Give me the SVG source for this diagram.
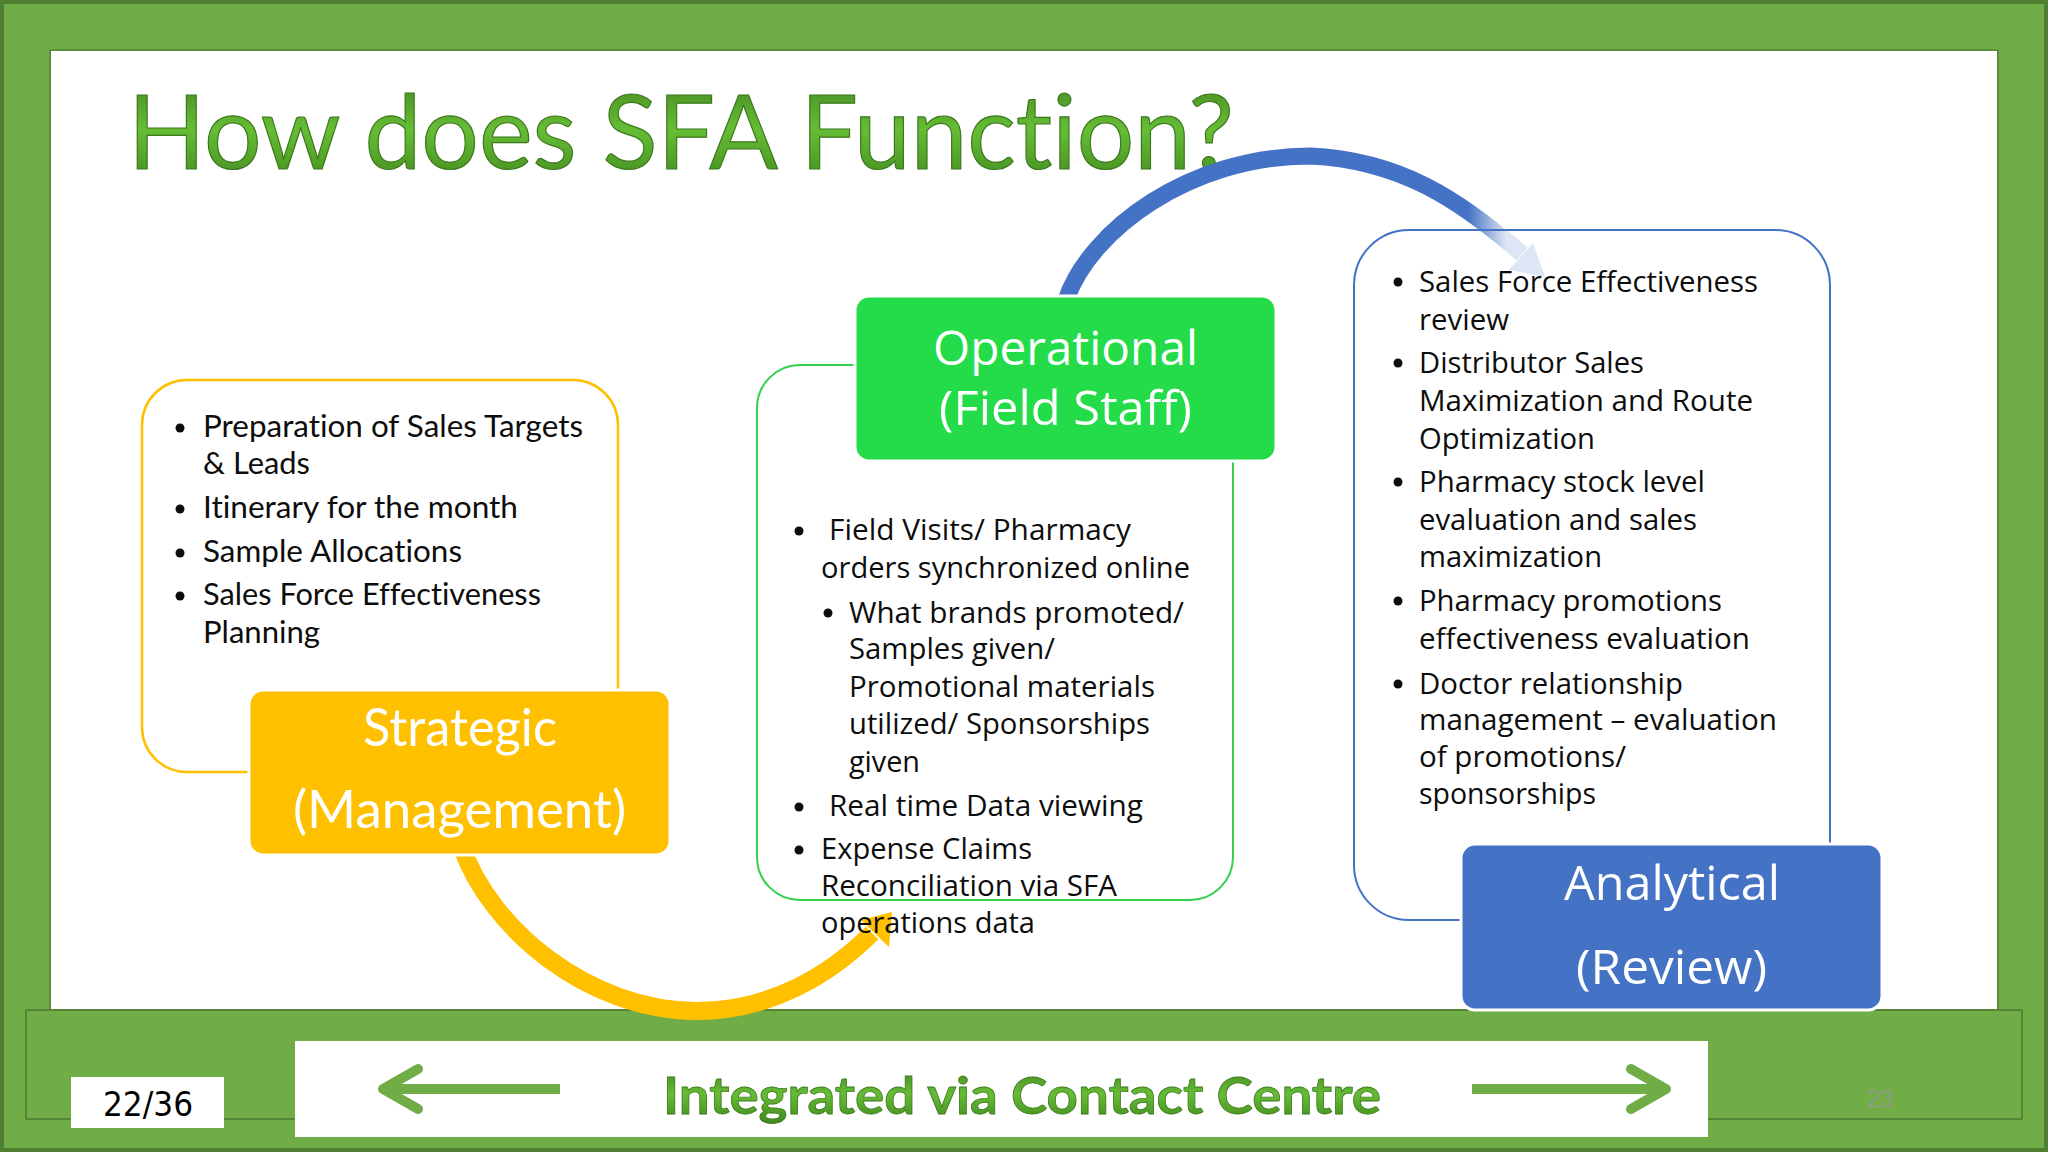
<svg xmlns="http://www.w3.org/2000/svg" width="2048" height="1152" viewBox="0 0 2048 1152">
<defs>
<style>
text{font-variant-ligatures:none;font-feature-settings:"liga" 0}
.bl{font-family:Lato,"Liberation Sans",sans-serif;font-size:30px;fill:#0d0d0d}
.br{font-family:"Open Sans","DejaVu Sans",sans-serif;font-size:29px;fill:#0d0d0d}
.lblL{font-family:Lato,"Liberation Sans",sans-serif;font-size:52px;fill:#ffffff}
.lblO{font-family:"Open Sans","DejaVu Sans",sans-serif;font-size:48px;fill:#ffffff}
.dot{fill:#0d0d0d}
.outline{fill:none}
.label{stroke:#ffffff;stroke-width:3}
.barrow{fill:none;stroke:#70AD47;stroke-width:10}
</style>
<linearGradient id="tg" x1="0" y1="0" x2="0" y2="1">
<stop offset="0" stop-color="#3f7f1f"/>
<stop offset="0.5" stop-color="#66bd35"/>
<stop offset="1" stop-color="#3e861d"/>
</linearGradient>
<linearGradient id="bg" gradientUnits="userSpaceOnUse" x1="1468" y1="0" x2="1506" y2="0">
<stop offset="0" stop-color="#4472C4"/>
<stop offset="1" stop-color="#dde6f4"/>
</linearGradient>
</defs>

<!-- slide background -->
<rect x="2" y="2" width="2044" height="1148" fill="#70AD47" stroke="#507E32" stroke-width="4"/>
<rect x="50" y="50" width="1948" height="960" fill="#ffffff" stroke="#5A8C3A" stroke-width="2"/>
<rect x="26" y="1010" width="1996" height="109" fill="#70AD47" stroke="#548435" stroke-width="2"/>
<rect x="295" y="1041" width="1413" height="96" fill="#ffffff"/>
<rect x="71" y="1077" width="153" height="51" fill="#ffffff"/>
<text x="103" y="1116" font-family="'DejaVu Sans Condensed','Liberation Sans',sans-serif" font-size="34" fill="#000" textLength="90" lengthAdjust="spacingAndGlyphs">22/36</text>
<text x="1867" y="1107" font-family="'Liberation Sans',sans-serif" font-size="24" fill="#8E9C84">23</text>

<!-- bottom banner -->
<g id="contact-centre">
<line class="barrow" x1="385" y1="1089" x2="560" y2="1089"/>
<polyline class="barrow" points="418,1069 383,1089 418,1109" stroke-linecap="round" stroke-linejoin="round"/>
<line class="barrow" x1="1472" y1="1089" x2="1662" y2="1089"/>
<polyline class="barrow" points="1631,1069 1666,1089 1631,1109" stroke-linecap="round" stroke-linejoin="round"/>
<text x="663" y="1114" font-family="Lato,'Liberation Sans',sans-serif" font-weight="700" font-size="52" fill="url(#tg)" stroke="#3d7a1c" stroke-width="0.8" textLength="718" lengthAdjust="spacingAndGlyphs">Integrated via Contact Centre</text>
</g>

<!-- title -->
<text x="128" y="169" font-family="Lato,'Liberation Sans',sans-serif" font-size="102" fill="url(#tg)" stroke="#3c781c" stroke-width="1.2" textLength="1106" lengthAdjust="spacingAndGlyphs">How does SFA Function?</text>

<!-- connectors -->
<g id="connectors">
<path d="M 461 845 C 490 930, 590 1011, 697 1011 C 770 1011, 830 975, 872 933" fill="none" stroke="#FFC000" stroke-width="18"/>
<polygon points="892,912 861,920 889,947" fill="#FFC000"/>
<path d="M 1066 300 C 1090 230, 1190 156, 1310 156 C 1400 160, 1460 200, 1522 254" fill="none" stroke="url(#bg)" stroke-width="17"/>
<polygon points="1545,277 1509,270 1533,243" fill="#dde6f4"/>
</g>

<!-- Strategic node -->
<g id="strategic">
<rect class="outline" x="142" y="380" width="476" height="392" rx="45" stroke="#FFC000" stroke-width="2.5"/>
<circle class="dot" cx="180" cy="428" r="4.5"/>
<text class="bl" x="203" y="437" textLength="380" lengthAdjust="spacingAndGlyphs">Preparation of Sales Targets</text>
<text class="bl" x="203" y="474" textLength="107" lengthAdjust="spacingAndGlyphs">&amp; Leads</text>
<circle class="dot" cx="180" cy="509" r="4.5"/>
<text class="bl" x="203" y="518" textLength="315" lengthAdjust="spacingAndGlyphs">Itinerary for the month</text>
<circle class="dot" cx="180" cy="553" r="4.5"/>
<text class="bl" x="203" y="562" textLength="259" lengthAdjust="spacingAndGlyphs">Sample Allocations</text>
<circle class="dot" cx="180" cy="596" r="4.5"/>
<text class="bl" x="203" y="605" textLength="338" lengthAdjust="spacingAndGlyphs">Sales Force Effectiveness</text>
<text class="bl" x="203" y="643" textLength="117" lengthAdjust="spacingAndGlyphs">Planning</text>
<rect class="label" x="249" y="690" width="421" height="165" rx="14" fill="#FFC000"/>
<text class="lblL" x="363" y="746" textLength="194" lengthAdjust="spacingAndGlyphs">Strategic</text>
<text class="lblL" x="293" y="828" textLength="333" lengthAdjust="spacingAndGlyphs">(Management)</text>
</g>

<!-- Operational node -->
<g id="operational">
<rect class="outline" x="757" y="365" width="476" height="535" rx="43" stroke="#33CF4E" stroke-width="2"/>
<circle class="dot" cx="799" cy="531" r="4.5"/>
<text class="br" x="829" y="540" textLength="302" lengthAdjust="spacingAndGlyphs">Field Visits/ Pharmacy</text>
<text class="br" x="821" y="578" textLength="369" lengthAdjust="spacingAndGlyphs">orders synchronized online</text>
<circle class="dot" cx="828" cy="613" r="4.5"/>
<text class="br" x="849" y="623" textLength="335" lengthAdjust="spacingAndGlyphs">What brands promoted/</text>
<text class="br" x="849" y="659" textLength="206" lengthAdjust="spacingAndGlyphs">Samples given/</text>
<text class="br" x="849" y="697" textLength="306" lengthAdjust="spacingAndGlyphs">Promotional materials</text>
<text class="br" x="849" y="734" textLength="301" lengthAdjust="spacingAndGlyphs">utilized/ Sponsorships</text>
<text class="br" x="849" y="772" textLength="71" lengthAdjust="spacingAndGlyphs">given</text>
<circle class="dot" cx="799" cy="807" r="4.5"/>
<text class="br" x="829" y="816" textLength="314" lengthAdjust="spacingAndGlyphs">Real time Data viewing</text>
<circle class="dot" cx="799" cy="850" r="4.5"/>
<text class="br" x="821" y="859" textLength="211" lengthAdjust="spacingAndGlyphs">Expense Claims</text>
<text class="br" x="821" y="896" textLength="296" lengthAdjust="spacingAndGlyphs">Reconciliation via SFA</text>
<text class="br" x="821" y="933" textLength="214" lengthAdjust="spacingAndGlyphs">operations data</text>
<rect class="label" x="855" y="296" width="421" height="165" rx="14" fill="#24DC4A"/>
<text class="lblO" x="933" y="365" textLength="265" lengthAdjust="spacingAndGlyphs">Operational</text>
<text class="lblO" x="939" y="425" textLength="253" lengthAdjust="spacingAndGlyphs">(Field Staff)</text>
</g>

<!-- Analytical node -->
<g id="analytical">
<rect class="outline" x="1354" y="230" width="476" height="690" rx="55" stroke="#4472C4" stroke-width="2"/>
<circle class="dot" cx="1398" cy="282" r="4.5"/>
<text class="br" x="1419" y="292" textLength="339" lengthAdjust="spacingAndGlyphs">Sales Force Effectiveness</text>
<text class="br" x="1419" y="330" textLength="90" lengthAdjust="spacingAndGlyphs">review</text>
<circle class="dot" cx="1398" cy="363" r="4.5"/>
<text class="br" x="1419" y="373" textLength="225" lengthAdjust="spacingAndGlyphs">Distributor Sales</text>
<text class="br" x="1419" y="411" textLength="334" lengthAdjust="spacingAndGlyphs">Maximization and Route</text>
<text class="br" x="1419" y="449" textLength="176" lengthAdjust="spacingAndGlyphs">Optimization</text>
<circle class="dot" cx="1398" cy="482" r="4.5"/>
<text class="br" x="1419" y="492" textLength="286" lengthAdjust="spacingAndGlyphs">Pharmacy stock level</text>
<text class="br" x="1419" y="530" textLength="278" lengthAdjust="spacingAndGlyphs">evaluation and sales</text>
<text class="br" x="1419" y="567" textLength="183" lengthAdjust="spacingAndGlyphs">maximization</text>
<circle class="dot" cx="1398" cy="601" r="4.5"/>
<text class="br" x="1419" y="611" textLength="303" lengthAdjust="spacingAndGlyphs">Pharmacy promotions</text>
<text class="br" x="1419" y="649" textLength="331" lengthAdjust="spacingAndGlyphs">effectiveness evaluation</text>
<circle class="dot" cx="1398" cy="684" r="4.5"/>
<text class="br" x="1419" y="694" textLength="264" lengthAdjust="spacingAndGlyphs">Doctor relationship</text>
<text class="br" x="1419" y="730" textLength="358" lengthAdjust="spacingAndGlyphs">management – evaluation</text>
<text class="br" x="1419" y="767" textLength="207" lengthAdjust="spacingAndGlyphs">of promotions/</text>
<text class="br" x="1419" y="804" textLength="177" lengthAdjust="spacingAndGlyphs">sponsorships</text>
<rect class="label" x="1461" y="844" width="421" height="166" rx="14" fill="#4472C4"/>
<text class="lblO" x="1564" y="900" textLength="216" lengthAdjust="spacingAndGlyphs">Analytical</text>
<text class="lblO" x="1576" y="984" textLength="191" lengthAdjust="spacingAndGlyphs">(Review)</text>
</g>
</svg>
